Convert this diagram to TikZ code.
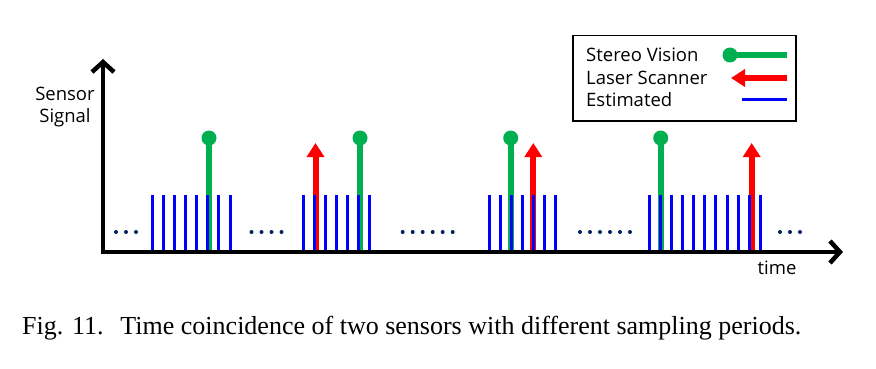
\documentclass[tikz,border=0pt]{standalone}
\usepackage{fontspec}
\setmainfont{Liberation Serif}
\newfontfamily\diagfont{Open Sans}
\usepackage{tikz}
\usetikzlibrary{arrows.meta,positioning,calc}
\usepackage{xcolor}
\definecolor{svgreen}{HTML}{00B050}
\definecolor{lsred}{HTML}{FF0000}
\definecolor{estblue}{HTML}{0000FF}
\definecolor{dotnavy}{HTML}{002060}

\begin{document}
\begin{tikzpicture}[x=1pt,y=-1pt,
    axis/.style={line width=4.5pt,{Straight Barb[length=10pt,width=22pt]}-{Straight Barb[length=10pt,width=22pt]}},
    stereo/.style={svgreen,line width=6pt},
    laser/.style={lsred,line width=6pt,-{Triangle[length=14pt,width=17pt]}},
    est/.style={estblue,line width=3pt},
    lbl/.style={font=\diagfont\fontsize{18.5}{22}\selectfont,inner sep=0pt}
]
\useasboundingbox (0,0) rectangle (876,369);

% axes
\coordinate (O) at (103,252);
\coordinate (ytip) at (103,59);
\coordinate (xtip) at (843,252);
\draw[axis] (ytip) -- (O) -- (xtip);
\node[lbl,align=center] (signal) at (65,107) {Sensor\\[0pt]Signal};
\node[lbl] (time) at (777,268) {time};

% stereo vision samples
\foreach \x in {209,360,510.7,660.7}{
  \draw[stereo] (\x,250) -- (\x,138);
  \fill[svgreen] (\x,138) circle (7.5);
}
% laser scanner samples
\foreach \x in {315.5,533.3,751.7}
  \draw[laser] (\x,250) -- (\x,143);

% estimated samples
\foreach \s/\n in {152.3/8,303.3/7,489/7,649.3/11}
  \foreach \i in {1,...,\n}
    \draw[est] ({\s+(\i-1)*11.1},250) -- ({\s+(\i-1)*11.1},195);

% gaps
\foreach \s/\n in {116/3,251.5/4,402.7/6,580/6,780/3}
  \foreach \i in {1,...,\n}
    \fill[dotnavy] ({\s+(\i-1)*10},232) circle (2);

% legend
\node[draw,line width=1.5pt,minimum width=223pt,minimum height=85pt,anchor=north west] (legend) at (572,35) {};
\node[lbl,anchor=west] (lsv) at (586,55) {Stereo Vision};
\node[lbl,anchor=west] (lls) at (586,78) {Laser Scanner};
\node[lbl,anchor=west] (lest) at (586,100) {Estimated};
\coordinate (sva) at (730,55);
\coordinate (svb) at (787,55);
\draw[stereo] (sva) -- (svb);
\fill[svgreen] (sva) circle (7.5);
\coordinate (lsa) at (787,78);
\coordinate (lsb) at (731,78);
\draw[laser] (lsa) -- (lsb);
\coordinate (esa) at (742,100);
\coordinate (esb) at (787,100);
\draw[est] (esa) -- (esb);

\node[anchor=west,inner sep=0pt,font=\fontsize{26}{30}\selectfont] (caption) at (22,328) {Fig. 11.\hspace{0.65em}Time coincidence of two sensors with different sampling periods.};
\end{tikzpicture}
\end{document}
